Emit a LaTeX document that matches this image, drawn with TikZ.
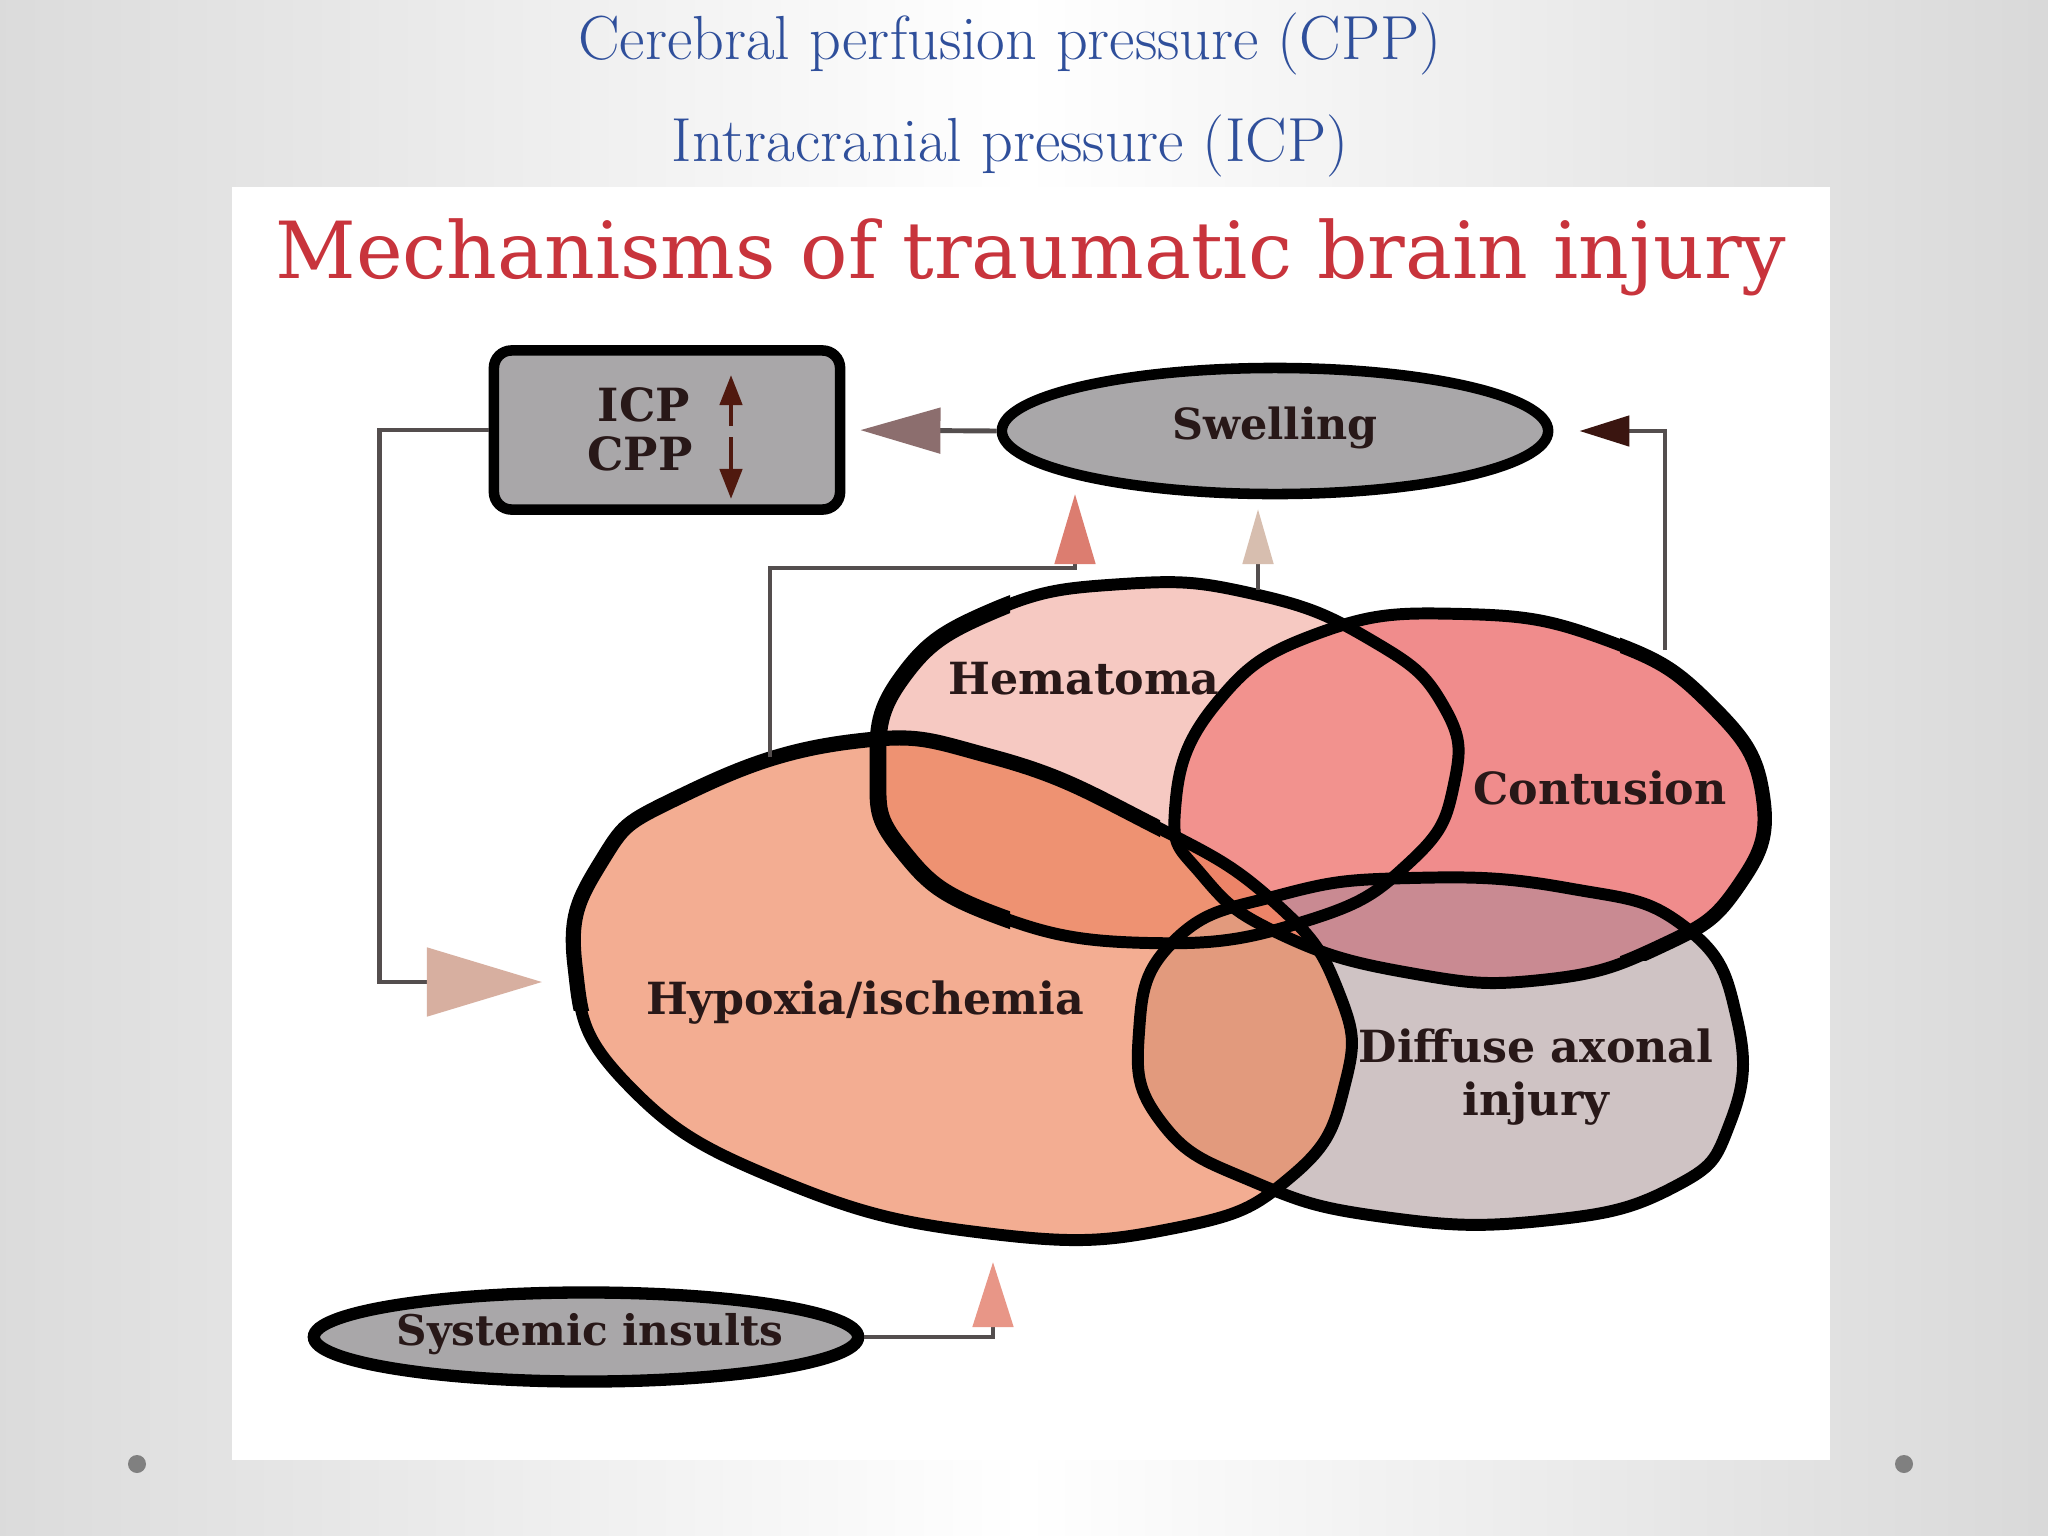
\documentclass[tikz,border=0pt]{standalone}
\usepackage{fontspec}
\newfontfamily\slabfont{DejaVu Serif}
\usetikzlibrary{arrows.meta,shapes.geometric}
\definecolor{slideblue}{RGB}{47,79,155}
\definecolor{titlered}{RGB}{200,52,60}
\definecolor{boxgrey}{RGB}{169,167,169}
\definecolor{linkgrey}{RGB}{84,78,78}
\definecolor{labeltext}{RGB}{40,24,24}
\definecolor{hypcol}{RGB}{243,173,146}
\definecolor{hemcol}{RGB}{246,201,194}
\definecolor{concol}{RGB}{240,140,140}
\definecolor{difcol}{RGB}{207,195,196}
\definecolor{hyphem}{RGB}{238,146,114}
\definecolor{hemcon}{RGB}{242,146,142}
\definecolor{hypdif}{RGB}{226,154,125}
\definecolor{condif}{RGB}{201,138,146}
\definecolor{hypcon}{RGB}{236,132,104}
\definecolor{tipmauve}{RGB}{140,110,110}
\definecolor{tipdark}{RGB}{58,21,16}
\definecolor{tipred}{RGB}{220,125,112}
\definecolor{tiptan}{RGB}{215,190,175}
\definecolor{tipsand}{RGB}{215,175,160}
\definecolor{tipsalmon}{RGB}{232,150,135}
\definecolor{icparrow}{RGB}{80,25,15}
\def\hyppath{plot[smooth cycle,tension=0.8] coordinates{(679,797) (849,742) (993,757) (1149,823) (1273,901) (1339,993) (1345,1084) (1293,1175) (1175,1228) (993,1234) (784,1182) (627,1084) (575,966) (601,862)}}
\def\hempath{plot[smooth cycle,tension=0.8] coordinates{(878,771) (901,679) (993,611) (1123,584) (1254,594) (1371,640) (1443,705) (1454,784) (1410,862) (1306,921) (1149,943) (993,914) (901,849)}}
\def\conpath{plot[smooth cycle,tension=0.8] coordinates{(1175,810) (1215,705) (1319,633) (1463,614) (1606,640) (1711,705) (1763,797) (1737,888) (1659,947) (1541,980) (1410,973) (1280,934) (1202,875)}}
\def\difpath{plot[smooth cycle,tension=0.8] coordinates{(1139,1032) (1175,940) (1280,895) (1410,878) (1567,888) (1685,927) (1737,1019) (1730,1123) (1672,1188) (1541,1221) (1384,1217) (1254,1182) (1162,1123)}}
\begin{document}
\begin{tikzpicture}[x=0.01cm,y=-0.01cm,
  link/.style={draw=linkgrey,line width=1.4pt},
  greynode/.style={draw=black,fill=boxgrey,line width=3pt},
  greytext/.style={text=labeltext,font=\slabfont\bfseries\fontsize{12.2}{14}\selectfont},
  blobtext/.style={text=labeltext,font=\slabfont\bfseries\fontsize{12.6}{15}\selectfont},
  slidetitle/.style={text=slideblue,font=\fontsize{17.7}{21}\selectfont},
  outline/.style={draw=black,line width=3.4pt,line cap=round}]
\useasboundingbox (0,0) rectangle (2048,1536);
\shade[left color=black!14,right color=black!15,middle color=white] (0,0) rectangle (2048,1536);
\fill[white] (232,187) rectangle (1830,1460);
\fill[black!50] (137,1464) circle [radius=9];
\fill[black!50] (1904,1464) circle [radius=9];

\node[slidetitle] (cpptitle) at (1010,44) {Cerebral perfusion pressure (CPP)};
\node[slidetitle] (icptitle) at (1010,146) {Intracranial pressure (ICP)};
\node[text=titlered,font=\slabfont\fontsize{22.4}{26}\selectfont] (mech) at (1031,257) {Mechanisms of traumatic brain injury};

\fill[hypcol] \hyppath;
\fill[hemcol] \hempath;
\fill[concol] \conpath;
\fill[difcol] \difpath;
\begin{scope}\clip \hyppath; \fill[hyphem] \hempath; \end{scope}
\begin{scope}\clip \hempath; \fill[hemcon] \conpath; \end{scope}
\begin{scope}\clip \hyppath; \fill[hypdif] \difpath; \end{scope}
\begin{scope}\clip \conpath; \fill[condif] \difpath; \end{scope}
\begin{scope}\clip \hyppath; \fill[hypcon] \conpath; \end{scope}
\draw[outline] \hempath;
\draw[outline] \conpath;
\draw[outline] \difpath;
\draw[outline] \hyppath;
\begin{scope}\clip (840,560) rectangle (1010,960); \draw[outline,line width=4.8pt] \hempath; \end{scope}
\begin{scope}\clip (540,720) rectangle (1160,1010); \draw[outline,line width=4.3pt] \hyppath; \end{scope}
\begin{scope}\clip (1620,600) rectangle (1800,960); \draw[outline,line width=4.1pt] \conpath; \end{scope}

\node[blobtext] (hyp) at (865,1003) {Hypoxia/ischemia};
\node[blobtext] (hem) at (1084,679) {Hematoma};
\node[blobtext] (con) at (1600,788) {Contusion};
\node[blobtext,align=center] (dif) at (1536,1077) {Diffuse axonal\\injury};

\node[greynode,rectangle,rounded corners=5pt,minimum width=3.46cm,minimum height=1.59cm] (icp) at (667,430) {};
\node[greytext,font=\slabfont\bfseries\fontsize{13}{15}\selectfont] (icplab) at (644,405) {ICP};
\node[greytext,font=\slabfont\bfseries\fontsize{13}{15}\selectfont] (cpplab) at (640,454) {CPP};
\coordinate (upA) at (731,426);
\coordinate (upB) at (731,375);
\coordinate (dnA) at (731,437);
\coordinate (dnB) at (731,499);
\draw[icparrow,line width=1.3pt,-{Triangle[length=0.3cm,width=0.22cm]}] (upA) -- (upB);
\draw[icparrow,line width=1.3pt,-{Triangle[length=0.3cm,width=0.22cm]}] (dnA) -- (dnB);

\node[greynode,ellipse,minimum width=5.46cm,minimum height=1.26cm] (swl) at (1275,431) {};
\node[greytext] (swllab) at (1275,428) {Swelling};
\node[greynode,ellipse,line width=3.5pt,minimum width=5.44cm,minimum height=0.89cm] (sys) at (586,1337) {};
\node[greytext,font=\slabfont\bfseries\fontsize{12}{14}\selectfont] (syslab) at (590,1334) {Systemic insults};

\coordinate (hyptop) at (770,757);
\coordinate (hemtop) at (1258,590);
\coordinate (contop) at (1665,650);
\coordinate (hypleft) at (542,982);
\coordinate (hypbot) at (993,1262);
\coordinate (swlinA) at (1075,494);
\coordinate (swlinB) at (1258,509);

\draw[link,shorten >=0.15cm,-{Triangle[length=0.8cm,width=0.45cm,fill=tipmauve,color=tipmauve]}] (swl.west) -- (icp.east);
\draw[link,shorten >=0.26cm,-{Triangle[length=0.5cm,width=0.3cm,fill=tipdark,color=tipdark]}] (contop) |- (swl.east);
\draw[link,-{Triangle[length=0.7cm,width=0.4cm,fill=tipred,color=tipred]}] (hyptop) -- ++(0,-189) -| (swlinA);
\draw[link,-{Triangle[length=0.55cm,width=0.3cm,fill=tiptan,color=tiptan]}] (hemtop) -- (swlinB);
\draw[link,-{Triangle[length=1.15cm,width=0.68cm,fill=tipsand,color=tipsand]}] (icp.west) -- ++(-109,0) |- (hypleft);
\draw[link,-{Triangle[length=0.65cm,width=0.4cm,fill=tipsalmon,color=tipsalmon]}] (sys.east) -| (hypbot);
\end{tikzpicture}
\end{document}
